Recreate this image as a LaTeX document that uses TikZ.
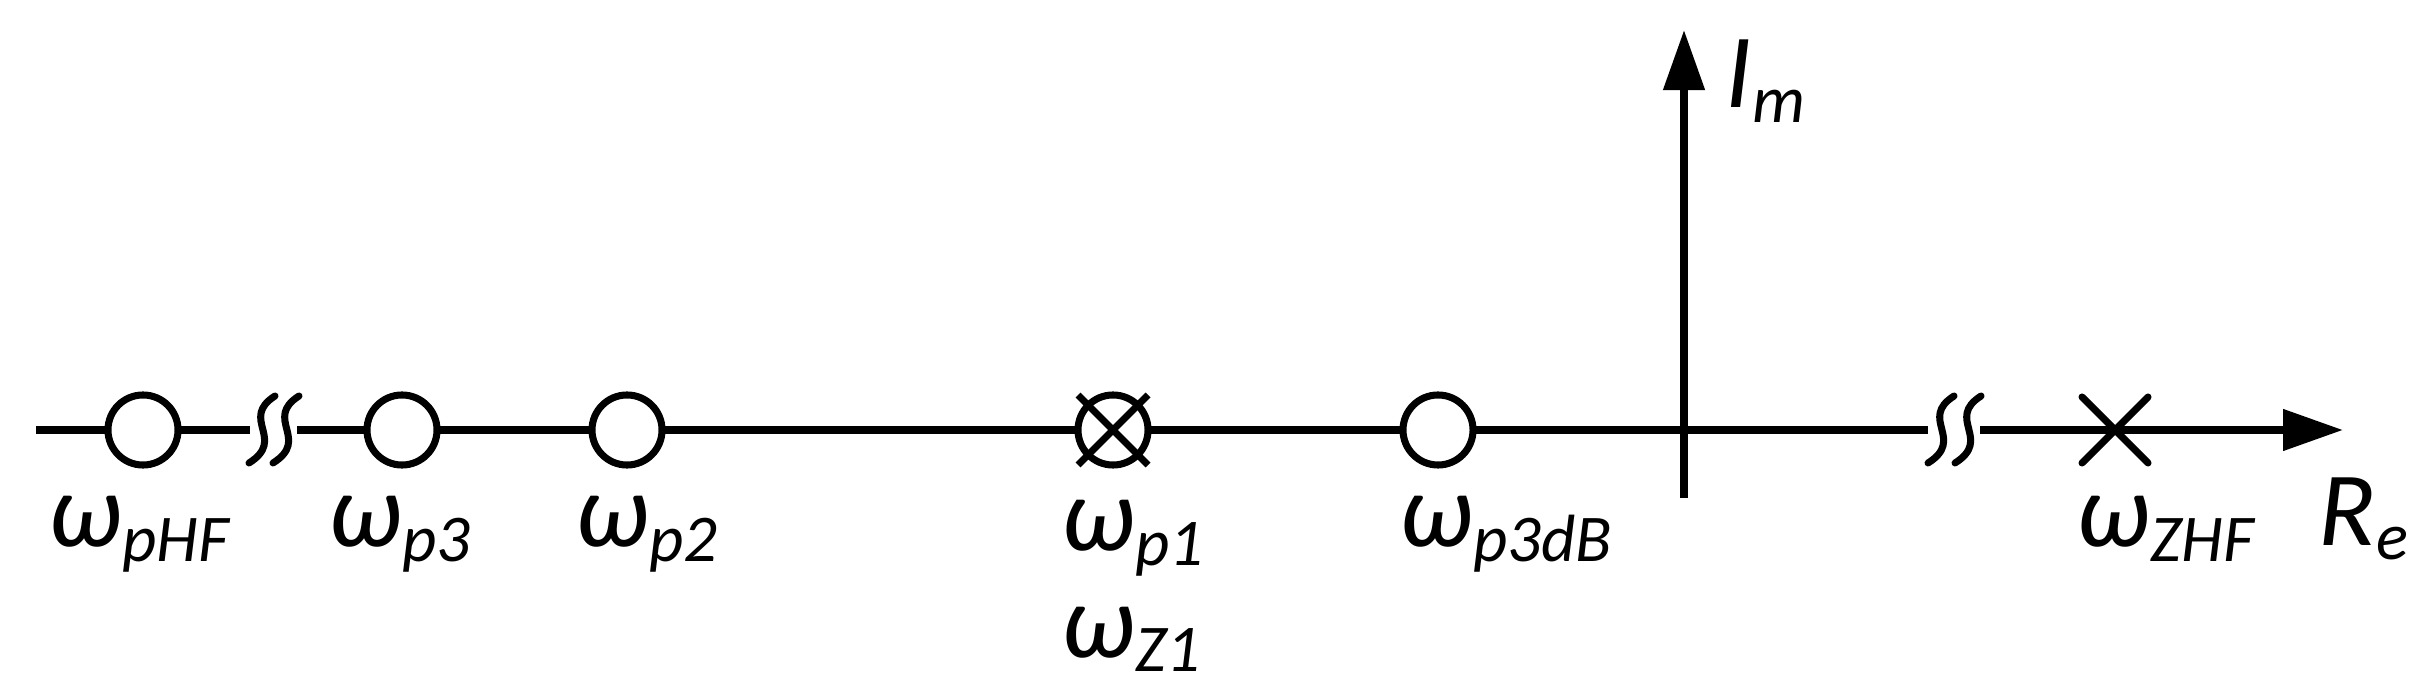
\documentclass[tikz,border=0pt]{standalone}
\usepackage{fontspec}
\setmainfont{Carlito}
\usetikzlibrary{arrows.meta}
\newcommand\wlab[2]{#1\raisebox{-0.14em}{\fontsize{19}{19}\selectfont #2}}
\begin{document}
\begin{tikzpicture}[x=0.01cm,y=0.01cm,line width=2.2pt,
  pole/.style={circle,draw,fill=white,minimum size=0.7cm,inner sep=0pt,line width=2pt},
  lab/.style={anchor=base west,inner sep=0pt,font=\fontsize{30}{30}\selectfont\itshape},
  brk/.style={line width=2pt,line cap=round}]
\useasboundingbox (0,0) rectangle (2419,691);
\coordinate (L) at (36,261);
\coordinate (B1a) at (250,261);
\coordinate (B1b) at (297,261);
\coordinate (B2a) at (1928,261);
\coordinate (B2b) at (1980,261);
\coordinate (R) at (2343,261);
\coordinate (V0) at (1684,193);
\coordinate (V1) at (1684,661);
\draw (L) -- (B1a);
\draw (B1b) -- (B2a);
\draw[-{Triangle[length=0.6cm,width=0.4cm]}] (B2b) -- (R);
\draw[-{Triangle[length=0.6cm,width=0.4cm]}] (V0) -- (V1);
% breaks
\foreach \a in {261,285,1940,1967}{
  \draw[brk] (\a+14,295) .. controls (\a-22,272) and (\a+26,252) .. (\a-12,228);
}
\node[pole] (pHF) at (143,261) {};
\node[pole] (p3) at (402,261) {};
\node[pole] (p2) at (627,261) {};
\node[pole] (p1) at (1113,261) {};
\draw[line width=2pt] ([shift={(-35,-35)}]p1.center) -- ([shift={(35,35)}]p1.center)
  ([shift={(-35,35)}]p1.center) -- ([shift={(35,-35)}]p1.center);
\node[pole] (p3dB) at (1438,261) {};
\coordinate (zHF) at (2115,261);
\draw[line width=2pt,line cap=round] ([shift={(-33,-33)}]zHF) -- ([shift={(33,33)}]zHF)
  ([shift={(-33,33)}]zHF) -- ([shift={(33,-33)}]zHF);
\node[lab] (tpHF) at (45,144) {\wlab{ω}{pHF}};
\node[lab] (tp3) at (325,144) {\wlab{ω}{p3}};
\node[lab] (tp2) at (572,144) {\wlab{ω}{p2}};
\node[lab] (tp1) at (1058,140) {\wlab{ω}{p1}};
\node[lab] (tz1) at (1058,34) {\wlab{ω}{Z1}};
\node[lab] (tp3dB) at (1396,144) {\wlab{ω}{p3dB}};
\node[lab] (tzHF) at (2073,144) {\wlab{ω}{ZHF}};
\node[lab] (tRe) at (2315,146) {\wlab{R}{e}};
\node[lab] (tIm) at (1722,583) {\wlab{I}{m}};
\end{tikzpicture}
\end{document}
